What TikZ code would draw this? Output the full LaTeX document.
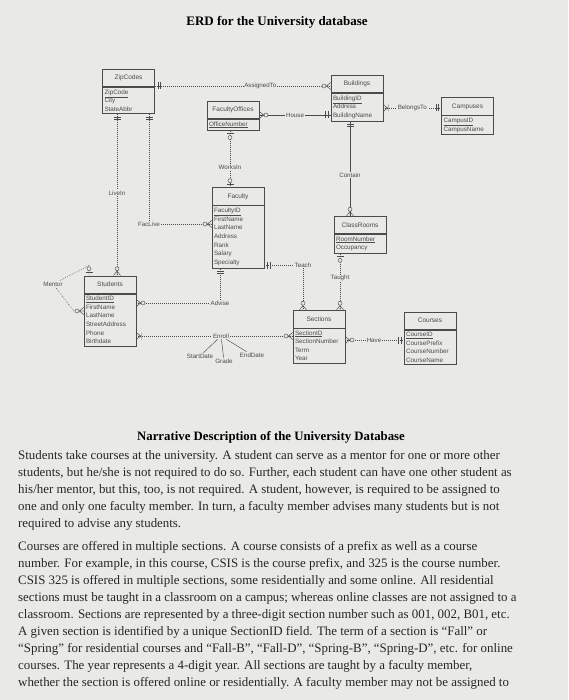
\documentclass[tikz,border=0pt]{standalone}
\usepackage{fontspec}
\setmainfont{Liberation Serif}
\newfontfamily\erdfont{Liberation Sans}
\usetikzlibrary{positioning}
\definecolor{bgc}{RGB}{233,233,231}
\definecolor{ink}{RGB}{75,75,75}
\tikzset{
  ent/.style={draw=ink, line width=.5pt, minimum width=52, minimum height=17.5, inner sep=1,
    text=ink, font=\erdfont\fontsize{6.5}{8}\selectfont},
  attr/.style={draw=ink, line width=.5pt, text width=48, inner xsep=2, inner ysep=2.3,
    align=left, text=ink, font=\erdfont\fontsize{6.3}{8.6}\selectfont},
  rel/.style={draw=ink, line width=.45pt, dash pattern=on .8pt off 1.2pt},
  relsolid/.style={draw=ink, line width=.45pt},
  lbl/.style={fill=bgc, inner sep=.8, text=ink, font=\erdfont\fontsize{6.2}{7}\selectfont},
  mk/.style={draw=ink, line width=.45pt, solid},
  mkone/.pic={\draw[mk] (3,-3.5) -- (3,3.5) (5.5,-3.5) -- (5.5,3.5);},
  mkzone/.pic={\draw[mk] (3,-3.5) -- (3,3.5); \draw[mk, fill=bgc] (6.8,0) circle (2);},
  mkzmany/.pic={\draw[mk] (0,-3.5) -- (4.5,0) -- (0,3.5) (0,0) -- (4.5,0);
    \draw[mk, fill=bgc] (6.8,0) circle (2);},
  mkomany/.pic={\draw[mk] (0,-3.5) -- (4.5,0) -- (0,3.5) (0,0) -- (4.5,0) (5.5,-3.5) -- (5.5,3.5);},
}
\begin{document}
\begin{tikzpicture}[x=1pt, y=-1pt]
\fill[bgc] (0,0) rectangle (568,700);

\node[font=\bfseries\fontsize{13}{15}\selectfont] (title) at (277,22) {ERD for the University database};

% entities
\node[ent] (zip) at (128.5,78) {ZipCodes};
\node[attr, below=0pt of zip] (zipA) {\underline{ZipCode}\\City\\StateAbbr};
\node[ent] (fo) at (233,110) {FacultyOffices};
\node[attr, below=0pt of fo] (foA) {\underline{OfficeNumber}};
\node[ent] (bld) at (357,84) {Buildings};
\node[attr, below=0pt of bld] (bldA) {\underline{BuildingID}\\Address\\BuildingName};
\node[ent] (cam) at (467.5,106.5) {Campuses};
\node[attr, below=0pt of cam] (camA) {\underline{CampusID}\\CampusName};
\node[ent] (fac) at (238,196.5) {Faculty};
\node[attr, below=0pt of fac] (facA) {\underline{FacultyID}\\FirstName\\LastName\\Address\\Rank\\Salary\\Specialty};
\node[ent] (cls) at (360,225) {ClassRooms};
\node[attr, below=0pt of cls] (clsA) {\underline{RoomNumber}\\Occupancy};
\node[ent] (stu) at (110,284.5) {Students};
\node[attr, below=0pt of stu] (stuA) {\underline{StudentID}\\FirstName\\LastName\\StreetAddress\\Phone\\Birthdate};
\node[ent] (sec) at (319,319) {Sections};
\node[attr, below=0pt of sec] (secA) {\underline{SectionID}\\SectionNumber\\Term\\Year};
\node[ent] (crs) at (430,320.5) {Courses};
\node[attr, below=0pt of crs] (crsA) {\underline{CourseID}\\CoursePrefix\\CourseNumber\\CourseName};

% relationships
\draw[rel] (zip.east |- 0,86) -- node[lbl, pos=.6]{AssignedTo} (bld.west |- 0,86);
\pic at (zip.east |- 0,86) {mkone};
\pic[rotate=180] at (bld.west |- 0,86) {mkzmany};

\draw[relsolid] (fo.east |- 0,115) -- node[lbl]{House} (bldA.west |- 0,115);
\pic at (fo.east |- 0,115) {mkzmany};
\pic[rotate=180] at (bldA.west |- 0,115) {mkone};

\draw[rel] (bldA.east |- 0,108) -- node[lbl]{BelongsTo} (cam.west |- 0,108);
\pic at (bldA.east |- 0,108) {mkomany};
\pic[rotate=180] at (cam.west |- 0,108) {mkone};

\draw[relsolid] (bldA.south -| 350,0) -- node[lbl, pos=.57]{Contain} (cls.north -| 350,0);
\pic[rotate=-90] at (bldA.south -| 350,0) {mkone};
\pic[rotate=90] at (cls.north -| 350,0) {mkzmany};

\draw[rel] (foA.south -| 230,0) -- node[lbl, pos=.64]{WorksIn} (fac.north -| 230,0);
\pic[rotate=-90] at (foA.south -| 230,0) {mkzone};
\pic[rotate=90] at (fac.north -| 230,0) {mkzone};

\draw[rel] (zipA.south -| 117,0) -- node[lbl, pos=.49]{LiveIn} (stu.north -| 117,0);
\pic[rotate=-90] at (zipA.south -| 117,0) {mkone};
\pic[rotate=90] at (stu.north -| 117,0) {mkzmany};

\draw[rel] (zipA.south -| 149,0) |- node[lbl]{FacLive} (facA.west |- 0,224);
\pic[rotate=-90] at (zipA.south -| 149,0) {mkone};
\pic[rotate=180] at (facA.west |- 0,224) {mkzmany};

\node[lbl] (mentor) at (53,284) {Mentor};
\draw[rel] (stu.north -| 89,0) -- ++(0,-10) -- (mentor);
\draw[rel] (stuA.west |- 0,311) -- ++(-10,0) -- (mentor);
\pic[rotate=90] at (stu.north -| 89,0) {mkzone};
\pic[rotate=180] at (stuA.west |- 0,311) {mkzmany};

\node[lbl] (advise) at (220,303) {Advise};
\draw[rel] (stuA.east |- 0,303) -- (advise) -- (facA.south -| advise);
\pic at (stuA.east |- 0,303) {mkzmany};
\pic[rotate=-90] at (facA.south -| advise) {mkone};

\node[lbl] (enroll) at (221,336) {Enroll};
\draw[rel] (stuA.east |- 0,336) -- (enroll) -- (secA.west |- 0,336);
\pic at (stuA.east |- 0,336) {mkomany};
\pic[rotate=180] at (secA.west |- 0,336) {mkzmany};
\node[lbl] (sdate) at (200,356) {StartDate};
\node[lbl] (grade) at (224,361) {Grade};
\node[lbl] (edate) at (252,355) {EndDate};
\draw[relsolid] (enroll) -- (sdate) (enroll) -- (grade) (enroll) -- (edate);

\node[lbl] (teach) at (303,265) {Teach};
\draw[rel] (facA.east |- 0,265) -- (teach) -- (sec.north -| teach);
\pic at (facA.east |- 0,265) {mkone};
\pic[rotate=90] at (sec.north -| teach) {mkzmany};

\node[lbl] (taught) at (340,278) {Taught};
\draw[rel] (clsA.south -| taught) -- (taught) -- (sec.north -| taught);
\pic[rotate=-90] at (clsA.south -| taught) {mkzone};
\pic[rotate=90] at (sec.north -| taught) {mkzmany};

\node[lbl] (have) at (374,340) {Have};
\draw[rel] (secA.east |- 0,340) -- (have) -- (crsA.west |- 0,340);
\pic at (secA.east |- 0,340) {mkzmany};
\pic[rotate=180] at (crsA.west |- 0,340) {mkone};

% narrative
\node[font=\bfseries\fontsize{12.8}{15}\selectfont] (ntitle) at (271,437) {Narrative Description of the University Database};
\node[anchor=north west, inner sep=0, align=left, text=black!85, font=\fontsize{12.9}{17}\selectfont] (para1) at (18,450)
{Students take courses at the university.  A student can serve as a mentor for one or more other\\
students, but he/she is not required to do so.  Further, each student can have one other student as\\
his/her mentor, but this, too, is not required.  A student, however, is required to be assigned to\\
one and only one faculty member.  In turn, a faculty member advises many students but is not\\
required to advise any students.};
\node[anchor=north west, inner sep=0, align=left, text=black!85, font=\fontsize{12.9}{17}\selectfont] (para2) at (18,541)
{Courses are offered in multiple sections.  A course consists of a prefix as well as a course\\
number.  For example, in this course, CSIS is the course prefix, and 325 is the course number.\\
CSIS 325 is offered in multiple sections, some residentially and some online.  All residential\\
sections must be taught in a classroom on a campus; whereas online classes are not assigned to a\\
classroom.  Sections are represented by a three-digit section number such as 001, 002, B01, etc.\\
A given section is identified by a unique SectionID field.  The term of a section is “Fall” or\\
“Spring” for residential courses and “Fall-B”, “Fall-D”, “Spring-B”, “Spring-D”, etc. for online\\
courses.  The year represents a 4-digit year.  All sections are taught by a faculty member,\\
whether the section is offered online or residentially.  A faculty member may not be assigned to};
\end{tikzpicture}
\end{document}
